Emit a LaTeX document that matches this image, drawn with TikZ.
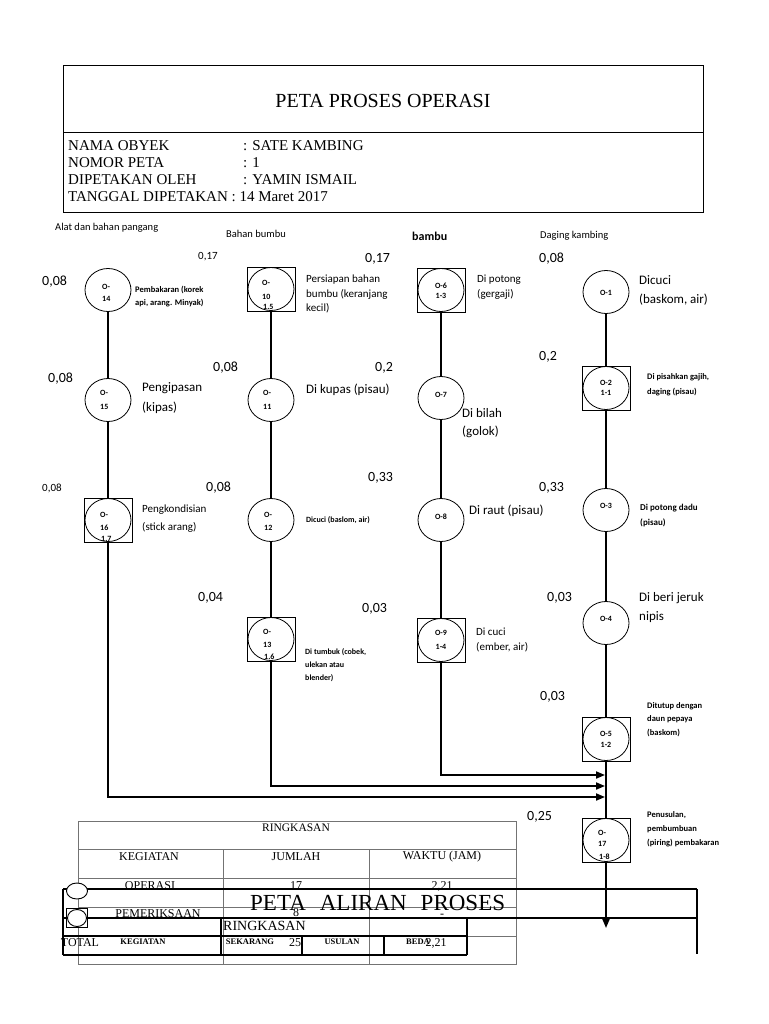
\documentclass[tikz,border=0pt]{standalone}
\usepackage{fontspec}
\setmainfont{Liberation Serif}
\newfontfamily\calfont{Carlito}
\usetikzlibrary{shapes.geometric,arrows.meta}
\newcommand\fsz[1]{\fontsize{#1}{#1}\selectfont}
\begin{document}
\begin{tikzpicture}[x=1pt,y=-1pt,
  t/.style={inner sep=0,anchor=west},
  cc/.style={inner sep=0,anchor=center},
  val/.style={t,font=\calfont\fsz{14}},
  vals/.style={t,font=\calfont\fsz{11}},
  lbig/.style={t,font=\calfont\fsz{13}},
  lmid/.style={t,font=\calfont\fsz{11}},
  lsm/.style={t,font=\calfont\bfseries\fsz{8.5}},
  sym/.style={inner sep=0,font=\calfont\bfseries\fsz{8}},
  syml/.style={sym,anchor=west},
  opc/.style={ellipse,draw,line width=0.8pt,minimum width=46pt,minimum height=43pt,inner sep=0},
  sqr/.style={rectangle,draw,line width=0.8pt,minimum width=48pt,minimum height=44pt,inner sep=0},
  conn/.style={line width=1.8pt},
  arr/.style={conn,-{Triangle[length=9pt,width=7pt]}},
  gr/.style={draw=black!55,line width=0.9pt},
  bk/.style={draw=black,line width=1.1pt},
  ser/.style={cc,font=\fsz{12}},
  serb/.style={cc,font=\bfseries\fsz{8.5}}
]
\useasboundingbox (0,0) rectangle (768,1024);
\fill[white] (0,0) rectangle (768,1024);

% ---------- header ----------
\draw[line width=0.9pt] (63,65) rectangle (703,212);
\draw[line width=0.9pt] (63,132) -- (703,132);
\node[cc,font=\fsz{20}] (title) at (383,101) {PETA PROSES OPERASI};
\node[t,font=\fsz{15}] (i1) at (68,146) {NAMA OBYEK};
\node[t,font=\fsz{15}] (i1v) at (243,146) {: SATE KAMBING};
\node[t,font=\fsz{15}] (i2) at (68,163) {NOMOR PETA};
\node[t,font=\fsz{15}] (i2v) at (243,163) {: 1};
\node[t,font=\fsz{15}] (i3) at (68,180) {DIPETAKAN OLEH};
\node[t,font=\fsz{15}] (i3v) at (243,180) {: YAMIN ISMAIL};
\node[t,font=\fsz{15}] (i4) at (68,197) {TANGGAL DIPETAKAN : 14 Maret 2017};

% ---------- column headers ----------
\node[t,font=\calfont\fsz{10.5}] (h1) at (55,228) {Alat dan bahan pangang};
\node[t,font=\calfont\fsz{10.5}] (h2) at (226,234) {Bahan bumbu};
\node[t,font=\calfont\bfseries\fsz{12}] (h3) at (412,236) {bambu};
\node[t,font=\calfont\fsz{10.5}] (h4) at (540,236) {Daging kambing};

% ---------- symbols ----------
\node[opc] (o14) at (108,290) {};
\node[opc] (o15) at (108,400) {};
\node[sqr] (s16) at (108,520) {}; \node[opc] (o16) at (108,520) {};

\node[sqr] (s10) at (271,289) {}; \node[opc] (o10) at (271,289) {};
\node[opc] (o11) at (271,400) {};
\node[opc] (o12) at (271,520) {};
\node[sqr] (s13) at (271,639) {}; \node[opc] (o13) at (271,639) {};

\node[sqr] (s6) at (441,290) {}; \node[opc] (o6) at (441,290) {};
\node[opc] (o7) at (441,398) {};
\node[opc] (o8) at (441,520) {};
\node[sqr] (s9) at (441,640) {}; \node[opc] (o9) at (441,640) {};

\node[opc] (o1) at (606,292) {};
\node[sqr] (s2) at (606,388) {}; \node[opc] (o2) at (606,388) {};
\node[opc] (o3) at (606,510) {};
\node[opc] (o4) at (606,623) {};
\node[sqr] (s5) at (606,739) {}; \node[opc] (o5) at (606,739) {};
\node[sqr] (s17) at (606,840) {}; \node[opc] (o17) at (606,840) {};

% symbol texts
\node[syml] (n14a) at (102,287) {O-}; \node[syml] (n14b) at (102,299) {14};
\node[syml] (n15a) at (100,393) {O-}; \node[syml] (n15b) at (100,407) {15};
\node[syml] (n16a) at (100,515) {O-}; \node[syml] (n16b) at (100,528) {16}; \node[syml] (n16c) at (101,539) {1.7};
\node[syml] (n10a) at (262,283) {O-}; \node[syml] (n10b) at (262,297) {10}; \node[syml] (n10c) at (263,307) {1.5};
\node[syml] (n11a) at (263,393) {O-}; \node[syml] (n11b) at (263,407) {11};
\node[syml] (n12a) at (264,515) {O-}; \node[syml] (n12b) at (264,528) {12};
\node[syml] (n13a) at (263,632) {O-}; \node[syml] (n13b) at (263,645) {13}; \node[syml] (n13c) at (264,657) {1.6};
\node[sym] (n6a) at (441,286) {O-6}; \node[sym] (n6b) at (441,296) {1-3};
\node[sym] (n7) at (441,395) {O-7};
\node[sym] (n8) at (441,517) {O-8};
\node[sym] (n9a) at (441,633) {O-9}; \node[sym] (n9b) at (441,647) {1-4};
\node[sym] (n1) at (606,293) {O-1};
\node[sym] (n2a) at (606,383) {O-2}; \node[sym] (n2b) at (606,393) {1-1};
\node[sym] (n3) at (606,506) {O-3};
\node[sym] (n4) at (606,619) {O-4};
\node[sym] (n5a) at (606,734) {O-5}; \node[sym] (n5b) at (606,745) {1-2};
\node[syml] (n17a) at (598,833) {O-}; \node[syml] (n17b) at (598,844) {17}; \node[syml] (n17c) at (599,857) {1-8};

% ---------- connectors ----------
\coordinate (m1) at (605,797);
\coordinate (m2) at (605,786);
\coordinate (m3) at (605,775);
\coordinate (e4) at (606,928);
\draw[conn] (o14) -- (o15);
\draw[conn] (o15) -- (o16);
\draw[arr] (o16) |- (m1);
\draw[conn] (o10) -- (o11);
\draw[conn] (o11) -- (o12);
\draw[conn] (o12) -- (o13);
\draw[arr] (o13) |- (m2);
\draw[conn] (o6) -- (o7);
\draw[conn] (o7) -- (o8);
\draw[conn] (o8) -- (o9);
\draw[arr] (o9) |- (m3);
\draw[conn] (o1) -- (o2);
\draw[conn] (o2) -- (o3);
\draw[conn] (o3) -- (o4);
\draw[conn] (o4) -- (o5);
\draw[conn] (o5) -- (o17);
\draw[arr] (o17) -- (e4);

% ---------- times ----------
\node[val] (v14) at (42,282) {0,08};
\node[vals] (v10s) at (198,257) {0,17};
\node[val] (v6) at (365,259) {0,17};
\node[val] (v1) at (539,259) {0,08};
\node[val] (v15) at (48,379) {0,08};
\node[val] (v11) at (213,368) {0,08};
\node[val] (v7) at (375,368) {0,2};
\node[val] (v2) at (539,357) {0,2};
\node[vals] (v16) at (42,488) {0,08};
\node[val] (v12) at (206,488) {0,08};
\node[val] (v8) at (368,478) {0,33};
\node[val] (v3) at (539,488) {0,33};
\node[val] (v13) at (198,598) {0,04};
\node[val] (v9) at (362,609) {0,03};
\node[val] (v4) at (547,598) {0,03};
\node[val] (v5) at (540,697) {0,03};
\node[val] (v17) at (527,817) {0,25};

% ---------- descriptions ----------
\node[lsm] (d14a) at (135,290) {Pembakaran (korek};
\node[lsm] (d14b) at (135,303) {api, arang. Minyak)};
\node[lmid] (d10a) at (306,280) {Persiapan bahan};
\node[lmid] (d10b) at (306,294) {bumbu (keranjang};
\node[lmid] (d10c) at (306,308) {kecil)};
\node[lmid] (d6a) at (477,280) {Di potong};
\node[lmid] (d6b) at (477,294) {(gergaji)};
\node[lbig] (d1a) at (639,280) {Dicuci};
\node[lbig] (d1b) at (639,300) {(baskom, air)};
\node[lbig] (d15a) at (142,388) {Pengipasan};
\node[lbig] (d15b) at (142,408) {(kipas)};
\node[lbig] (d11) at (306,390) {Di kupas (pisau)};
\node[lbig] (d7a) at (462,413) {Di bilah};
\node[lbig] (d7b) at (462,432) {(golok)};
\node[lsm] (d2a) at (647,377) {Di pisahkan gajih,};
\node[lsm] (d2b) at (647,392) {daging (pisau)};
\node[lmid] (d16a) at (142,510) {Pengkondisian};
\node[lmid] (d16b) at (142,527) {(stick arang)};
\node[lsm,font=\calfont\bfseries\fsz{8}] (d12) at (306,520) {Dicuci (baslom, air)};
\node[lsm,font=\calfont\bfseries\fsz{9}] (d3a) at (640,508) {Di potong dadu};
\node[lsm,font=\calfont\bfseries\fsz{9}] (d3b) at (640,523) {(pisau)};
\node[lbig] (d8) at (469,511) {Di raut (pisau)};
\node[lsm,font=\calfont\bfseries\fsz{8}] (d13a) at (305,652) {Di tumbuk (cobek,};
\node[lsm,font=\calfont\bfseries\fsz{8}] (d13b) at (305,665) {ulekan atau};
\node[lsm,font=\calfont\bfseries\fsz{8}] (d13c) at (305,678) {blender)};
\node[lmid] (d9a) at (476,632) {Di cuci};
\node[lmid] (d9b) at (476,647) {(ember, air)};
\node[lbig] (d4a) at (639,598) {Di beri jeruk};
\node[lbig] (d4b) at (639,617) {nipis};
\node[lsm] (d5a) at (647,706) {Ditutup dengan};
\node[lsm] (d5b) at (647,719) {daun pepaya};
\node[lsm] (d5c) at (647,733) {(baskom)};
\node[lsm] (d17a) at (647,815) {Penusulan,};
\node[lsm] (d17b) at (647,829) {pembumbuan};
\node[lsm] (d17c) at (647,843) {(piring) pembakaran};

% ---------- ringkasan table (grey) ----------
\draw[gr] (78,821) rectangle (516,964);
\draw[gr] (78,849) -- (516,849);
\draw[gr] (78,878) -- (516,878);
\draw[gr] (78,907) -- (516,907);
\draw[gr] (78,936) -- (516,936);
\draw[gr] (223,849) -- (223,964);
\draw[gr] (369,849) -- (369,964);
\node[ser,font=\fsz{11.5}] (r0) at (296,828) {RINGKASAN};
\node[ser] (r1a) at (149,857) {KEGIATAN};
\node[ser] (r1b) at (296,857) {JUMLAH};
\node[ser] (r1c) at (442,857) {WAKTU (JAM)};
\node[ser] (r2a) at (150,886) {OPERASI};
\node[ser] (r2b) at (296,886) {17};
\node[ser] (r2c) at (442,886) {2,21};
\node[ser] (r3a) at (158,914) {PEMERIKSAAN};
\node[ser] (r3b) at (296,913) {8};
\node[ser] (r3c) at (442,916) {-};
\node[ser] (r4a) at (80,943) {TOTAL};
\node[ser] (r4b) at (295,943) {25};
\node[ser] (r4c) at (436,943) {2,21};

% ---------- overlay (black) ----------
\draw[bk] (63,889) -- (697,889);
\draw[bk] (63,918) -- (697,918);
\draw[bk] (63,889) -- (63,955);
\draw[bk] (697,889) -- (697,954);
\draw[bk] (467,918) -- (467,955);
\draw[bk] (63,955) -- (467,955);
\draw[bk] (63,936) -- (467,936);
\draw[bk] (221,918) -- (221,955);
\draw[bk] (302,936) -- (302,955);
\draw[bk] (384,936) -- (384,955);
\node[ellipse,draw,line width=0.9pt,fill=white,minimum width=21pt,minimum height=16pt,inner sep=0] (ks1) at (77,891) {};
\node[rectangle,draw,line width=0.9pt,minimum width=21pt,minimum height=19pt,inner sep=0] (ks2s) at (77,918) {};
\node[ellipse,draw,line width=0.9pt,fill=white,minimum width=19pt,minimum height=17pt,inner sep=0] (ks2) at (77,918) {};
\node[t,font=\fsz{23}] (pap) at (250,903) {PETA\hspace{14pt}ALIRAN\hspace{14pt}PROSES};
\node[t,font=\fsz{14}] (rk) at (223,926) {RINGKASAN};
\node[serb] (b1) at (143,942) {KEGIATAN};
\node[serb] (b2) at (250,942) {SEKARANG};
\node[serb] (b3) at (342,942) {USULAN};
\node[serb] (b4) at (418,942) {BEDA};
\end{tikzpicture}
\end{document}
